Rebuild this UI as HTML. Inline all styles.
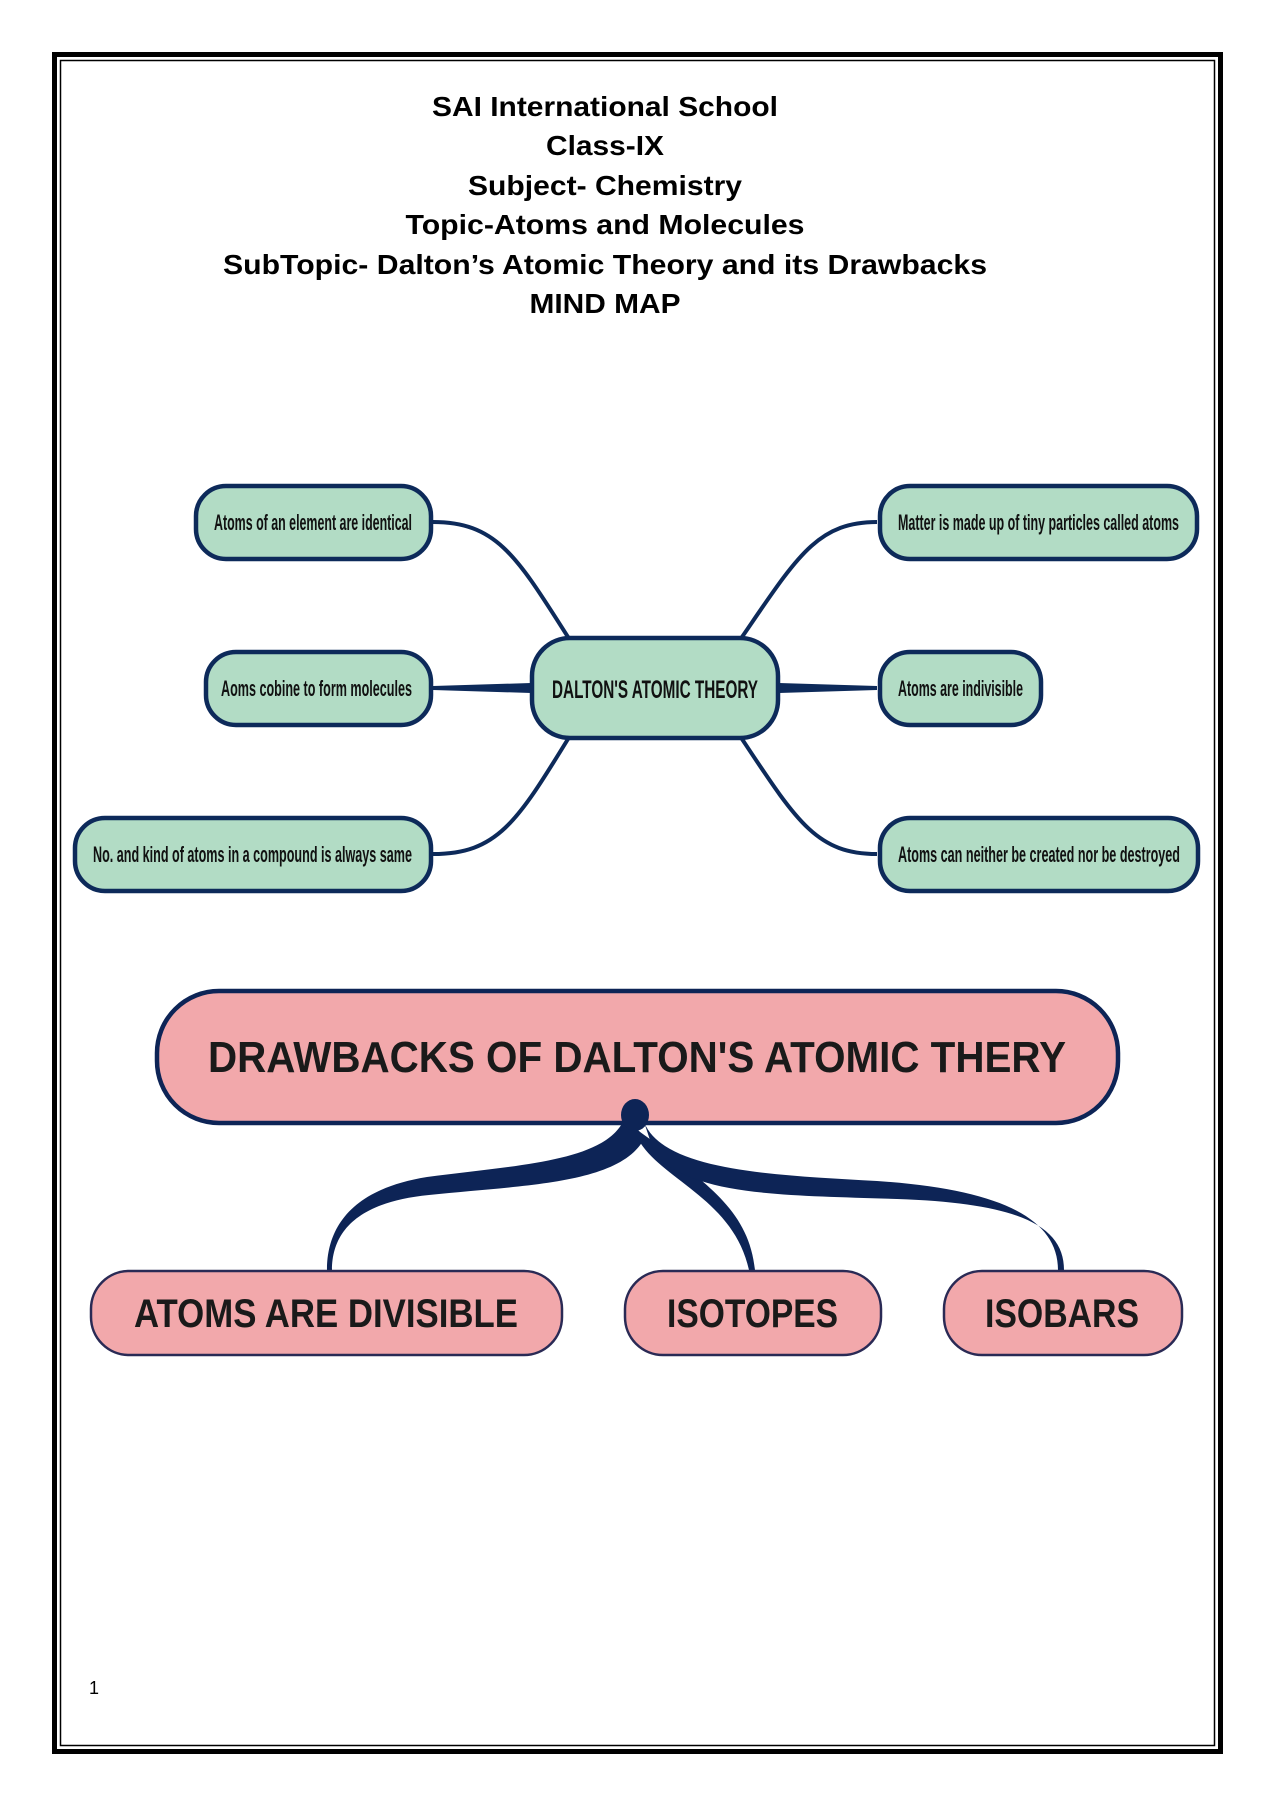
<!DOCTYPE html>
<html><head><meta charset="utf-8"><style>
html,body{margin:0;padding:0;background:#fff;}
svg{display:block;}
</style></head><body>
<svg width="1272" height="1800" viewBox="0 0 1272 1800" xmlns="http://www.w3.org/2000/svg">
<rect x="0" y="0" width="1272" height="1800" fill="#fff"/>
<rect x="54.5" y="54.5" width="1166" height="1697" fill="none" stroke="#000" stroke-width="5"/>
<rect x="60.5" y="60.5" width="1154" height="1685" fill="none" stroke="#000" stroke-width="1.5"/>
<g transform="translate(-3,-3)">
<g font-family="Liberation Sans, Arial, sans-serif" font-weight="bold" font-size="28" text-anchor="middle" fill="#000">
<text x="608" y="119" textLength="346" lengthAdjust="spacingAndGlyphs">SAI International School</text>
<text x="608" y="158" textLength="118" lengthAdjust="spacingAndGlyphs">Class-IX</text>
<text x="608" y="198" textLength="274" lengthAdjust="spacingAndGlyphs">Subject- Chemistry</text>
<text x="608" y="237" textLength="399" lengthAdjust="spacingAndGlyphs">Topic-Atoms and Molecules</text>
<text x="608" y="277" textLength="764" lengthAdjust="spacingAndGlyphs">SubTopic- Dalton’s Atomic Theory and its Drawbacks</text>
<text x="608" y="316" textLength="151" lengthAdjust="spacingAndGlyphs">MIND MAP</text>
</g>
<g fill="none" stroke="#0d2a5a" stroke-width="4">
<path d="M436,525 C500,525 520,560 571,640"/>
<path d="M436,857 C500,857 520,825 571,742"/>
<path d="M880,525 C820,525 800,560 745,640"/>
<path d="M880,857 C820,857 800,825 745,742"/>
</g>
<path d="M436,689 L534,686 L534,696 L436,693 Z" fill="#0d2a5a"/>
<path d="M880,689 L782,686 L782,696 L880,693 Z" fill="#0d2a5a"/>
<g fill="#b2dcc5" stroke="#0d2a5a" stroke-width="4.5">
<rect x="199" y="489" width="235" height="73" rx="30"/>
<rect x="209" y="655" width="225" height="73" rx="30"/>
<rect x="78" y="821" width="356" height="73" rx="30"/>
<rect x="535" y="641" width="246" height="100" rx="38"/>
<rect x="883" y="489" width="317" height="73" rx="30"/>
<rect x="883" y="655" width="161" height="73" rx="30"/>
<rect x="883" y="821" width="318" height="73" rx="30"/>
</g>
<g font-family="Liberation Sans, Arial, sans-serif" font-size="22" font-weight="bold" fill="#111">
<text x="217" y="533" textLength="198" lengthAdjust="spacingAndGlyphs">Atoms of an element are identical</text>
<text x="224" y="699" textLength="191" lengthAdjust="spacingAndGlyphs">Aoms cobine to form molecules</text>
<text x="96" y="865" textLength="319" lengthAdjust="spacingAndGlyphs">No. and kind of atoms in a compound is always same</text>
<text x="901" y="533" textLength="281" lengthAdjust="spacingAndGlyphs">Matter is made up of tiny particles called atoms</text>
<text x="901" y="699" textLength="125" lengthAdjust="spacingAndGlyphs">Atoms are indivisible</text>
<text x="901" y="865" textLength="282" lengthAdjust="spacingAndGlyphs">Atoms can neither be created nor be destroyed</text>
<text x="555" y="701" font-size="25" textLength="206" lengthAdjust="spacingAndGlyphs">DALTON'S ATOMIC THEORY</text>
</g>
<g fill="#0d2456">
<path d="M628,1120 C612,1165 520,1168 430,1180 C355,1192 330,1230 330,1273 L335,1273 C335,1235 360,1205 432,1198 C525,1188 625,1188 648,1140 Z"/>
<path d="M636,1130 C650,1180 735,1195 752,1273 L758,1273 C752,1215 712,1190 664,1150 Z"/>
<path d="M646,1122 C662,1175 780,1178 880,1184 C1000,1192 1061,1220 1061,1273 L1067,1273 C1067,1228 1020,1206 900,1202 C790,1198 700,1200 658,1158 Z"/>
</g>
<g fill="#f2a8ab" stroke="#0d2456" stroke-width="4.5">
<rect x="160" y="994" width="961" height="132" rx="62"/>
</g>
<g fill="#f2a8ab" stroke="#2a2a55" stroke-width="2.5">
<rect x="94" y="1274" width="471" height="84" rx="38"/>
<rect x="628" y="1274" width="256" height="84" rx="38"/>
<rect x="947" y="1274" width="238" height="84" rx="38"/>
</g>
<ellipse cx="638" cy="1118" rx="14" ry="16" fill="#0d2456"/>
<g font-family="Liberation Sans, Arial, sans-serif" font-weight="bold" fill="#1a1a1a">
<text x="211" y="1075" font-size="44" textLength="858" lengthAdjust="spacingAndGlyphs">DRAWBACKS OF DALTON'S ATOMIC THERY</text>
<text x="137" y="1330" font-size="40" textLength="384" lengthAdjust="spacingAndGlyphs">ATOMS ARE DIVISIBLE</text>
<text x="670" y="1330" font-size="40" textLength="171" lengthAdjust="spacingAndGlyphs">ISOTOPES</text>
<text x="988" y="1330" font-size="40" textLength="154" lengthAdjust="spacingAndGlyphs">ISOBARS</text>
</g>
<text x="92" y="1697" font-family="Liberation Sans, Arial, sans-serif" font-size="18" fill="#000">1</text>
</g>
</svg>
</body></html>
